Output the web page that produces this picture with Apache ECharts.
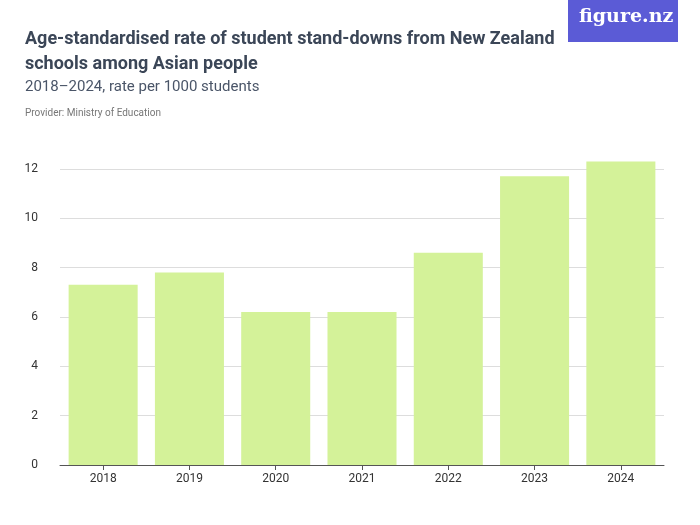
<!DOCTYPE html>
<html><head><meta charset="utf-8">
<script src="https://cdn.jsdelivr.net/npm/echarts@6/dist/echarts.min.js"></script>
<style>body{margin:0}#c{width:700px;height:525px}</style></head>
<body><div id="c"></div>
<script>
const categories=['2018','2019','2020','2021','2022','2023','2024'];
const values=[7.3,7.8,6.2,6.2,8.6,11.7,12.3];
const chart=echarts.init(document.getElementById('c'));
chart.setOption({
  backgroundColor:'#fff',
  graphic:[
    {type:'rect',left:568,top:0,shape:{width:110,height:42},style:{fill:'#5b5bd6'}},
    {type:'text',left:579,top:8,style:{text:'figure.nz',fill:'#fff',font:'bold 19px "DejaVu Serif"'}},
    {type:'text',left:25,top:27,style:{text:'Age-standardised rate of student stand-downs from New Zealand\nschools among Asian people',fill:'#3b4657',font:'bold 18px Roboto',lineHeight:25}},
    {type:'text',left:25,top:80,style:{text:'2018–2024, rate per 1000 students',fill:'#4a5568',font:'15px Roboto'}},
    {type:'text',left:25,top:108,style:{text:'Provider: Ministry of Education',fill:'#777',font:'10px Roboto'}}
  ],
  grid:{left:60,right:36,top:159,bottom:60},
  xAxis:{type:'category',data:categories,axisTick:{show:true,alignWithLabel:true,lineStyle:{color:'#555'}},axisLine:{lineStyle:{color:'#555'}},axisLabel:{color:'#333',fontSize:12,fontFamily:'Roboto'}},
  yAxis:{type:'value',min:0,max:12.4,interval:2,axisLabel:{color:'#333',fontSize:12,fontFamily:'Roboto',margin:22,showMaxLabel:false},splitLine:{showMaxLine:false,lineStyle:{color:'#ddd'}}},
  series:[{type:'bar',data:values,barCategoryGap:'20%',itemStyle:{color:'#d4f299'}}]
});
</script></body></html>
